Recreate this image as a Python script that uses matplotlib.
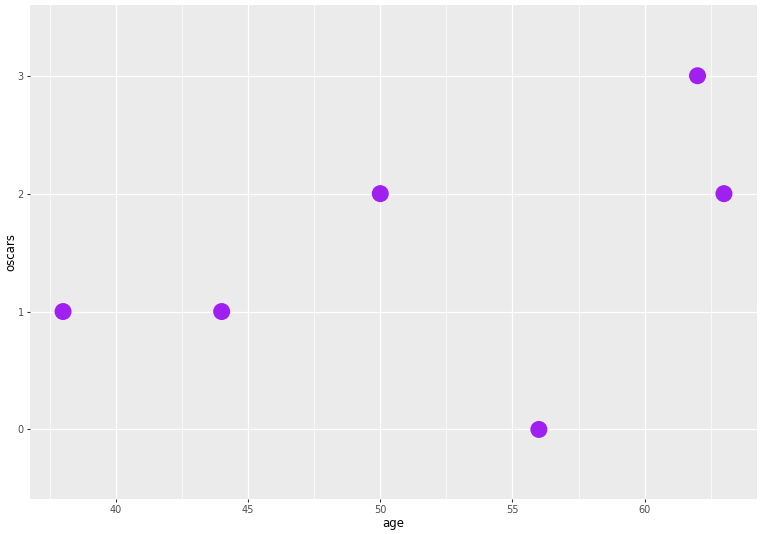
import matplotlib.pyplot as plt
import numpy as np

age = [38, 44, 50, 56, 62, 63]
oscars = [1, 1, 2, 0, 3, 2]

fig = plt.figure(figsize=(7.63, 5.34), dpi=100)
ax = fig.add_axes([30 / 763, 1 - 499 / 534, 727 / 763, 494 / 534])
ax.set_facecolor('#EBEBEB')
for s in ax.spines.values():
    s.set_visible(False)

ax.set_xlim(36.75, 64.25)
ax.set_ylim(-0.59, 3.6)
ax.set_xticks([40, 45, 50, 55, 60])
ax.set_xticks([37.5, 42.5, 47.5, 52.5, 57.5, 62.5], minor=True)
ax.set_yticks([0, 1, 2, 3])

ax.grid(which='major', color='white', linewidth=0.9)
ax.grid(which='minor', axis='x', color='white', linewidth=0.5)
ax.set_axisbelow(True)

ax.tick_params(which='major', length=2.5, width=0.8, color='#333333',
               labelsize=7, labelcolor='#4D4D4D', pad=2)
ax.tick_params(which='minor', length=0)

ax.scatter(age, oscars, s=150, color='#A020F0', edgecolors='none', zorder=3)

ax.set_xlabel('age', fontsize=8.5, labelpad=1)
ax.set_ylabel('oscars', fontsize=8.5, labelpad=0)

fig.savefig('out.png', dpi=100)
